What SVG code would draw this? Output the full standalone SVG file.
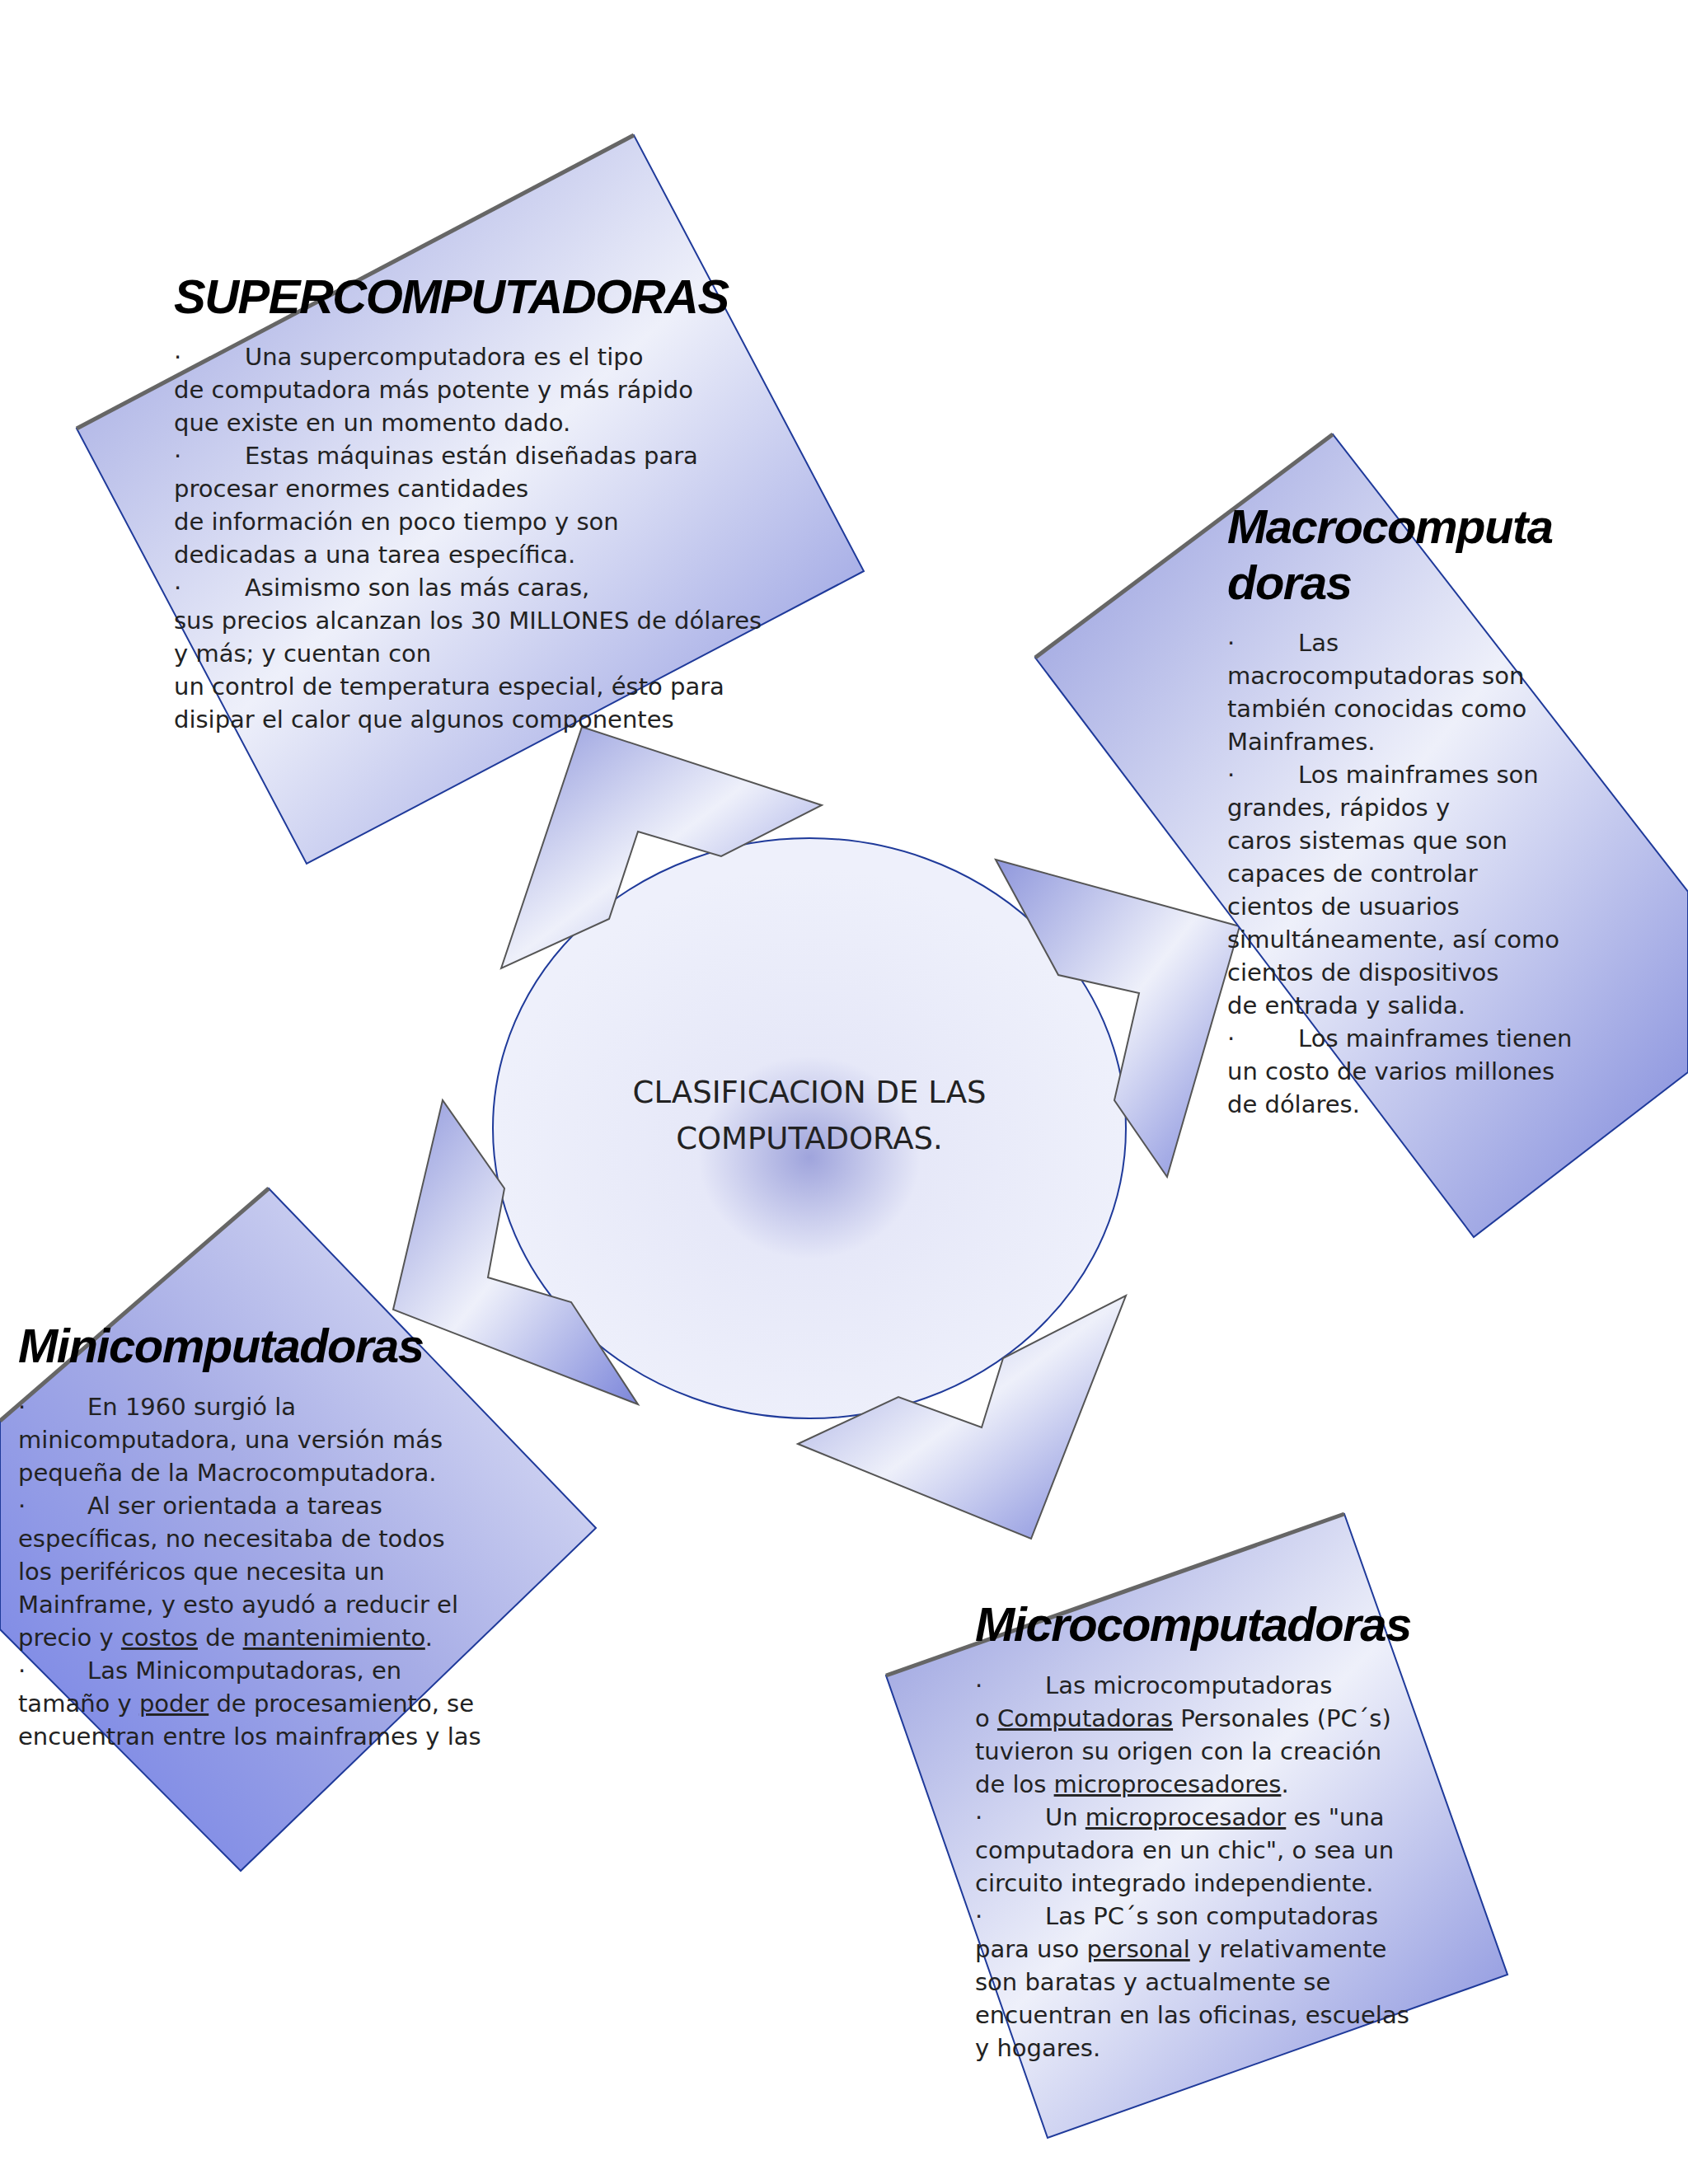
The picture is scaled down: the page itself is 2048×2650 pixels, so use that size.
<svg xmlns="http://www.w3.org/2000/svg" width="2048" height="2650" viewBox="0 0 2048 2650">
<defs>
<linearGradient id="g1" x1="0" y1="0" x2="1" y2="1"><stop offset="0" stop-color="#8f97dc"/><stop offset="0.5" stop-color="#eef0fa"/><stop offset="1" stop-color="#7c86da"/></linearGradient>
<linearGradient id="g2" x1="1" y1="0" x2="0" y2="1"><stop offset="0" stop-color="#eceefa"/><stop offset="0.5" stop-color="#a7ade6"/><stop offset="1" stop-color="#6f7de6"/></linearGradient>
<radialGradient id="rc" cx="0.5" cy="0.55" r="0.5"><stop offset="0" stop-color="#9fa4dc"/><stop offset="0.35" stop-color="#e6e8f8"/><stop offset="1" stop-color="#eef0fb"/></radialGradient>
<style>
.box{fill:url(#g1);stroke:#1f3a9a;stroke-width:2}
.box2{fill:url(#g2);stroke:#1f3a9a;stroke-width:2}
.sh{fill:none;stroke:#666;stroke-width:5}
.arr{fill:url(#g1);stroke:#555;stroke-width:2}
.t{font-family:"Liberation Sans",Arial,sans-serif;font-weight:bold;font-style:italic;font-size:58px;fill:#000;letter-spacing:-1.5px}
.b{font-family:"DejaVu Sans","Liberation Sans",sans-serif;font-size:29px;fill:#222}
.u{text-decoration:underline}
</style>
</defs>
<rect width="2048" height="2650" fill="#fff"/>
<g id="center">
<ellipse cx="982" cy="1369" rx="384" ry="352" fill="url(#rc)" stroke="#1f3a9a" stroke-width="2"/>
<text font-family="DejaVu Sans,sans-serif" font-size="37" fill="#222" text-anchor="middle"><tspan x="982" y="1338">CLASIFICACION DE LAS</tspan><tspan x="982" y="1394">COMPUTADORAS.</tspan></text>
</g>
<g id="connectors">
<polygon class="arr" points="608,1175 706,882 997,977 875,1039 774,1009 739,1115"/>
<polygon class="arr" points="1208,1043 1504,1124 1416,1428 1352,1335 1382,1205 1284,1183"/>
<polygon class="arr" points="537,1335 477,1589 774,1704 693,1580 592,1550 612,1442"/>
<polygon class="arr" points="968,1752 1251,1867 1366,1572 1217,1648 1191,1732 1090,1695"/>
</g>
<g id="super">
<polygon class="box" points="93,520 769,164 1048,693 372,1048"/>
<polyline class="sh" points="93,520 769,164"/>
<text class="t" x="211" y="380">SUPERCOMPUTADORAS</text>
<text class="b"><tspan x="211" y="443">·</tspan><tspan x="297">Una supercomputadora es el tipo</tspan><tspan x="211" y="483">de computadora más potente y más rápido</tspan><tspan x="211" y="523">que existe en un momento dado.</tspan><tspan x="211" y="563">·</tspan><tspan x="297">Estas máquinas están diseñadas para</tspan><tspan x="211" y="603">procesar enormes cantidades</tspan><tspan x="211" y="643">de información en poco tiempo y son</tspan><tspan x="211" y="683">dedicadas a una tarea específica.</tspan><tspan x="211" y="723">·</tspan><tspan x="297">Asimismo son las más caras,</tspan><tspan x="211" y="763">sus precios alcanzan los 30 MILLONES de dólares</tspan><tspan x="211" y="803">y más; y cuentan con</tspan><tspan x="211" y="843">un control de temperatura especial, ésto para</tspan><tspan x="211" y="883">disipar el calor que algunos componentes</tspan></text>
</g>
<g id="macro">
<polygon class="box" points="1256,798 1617,527 2048,1082 2048,1301 1788,1501"/>
<polyline class="sh" points="1256,798 1617,527"/>
<text class="t"><tspan x="1489" y="659">Macrocomputa</tspan><tspan x="1489" y="727">doras</tspan></text>
<text class="b"><tspan x="1489" y="790">·</tspan><tspan x="1575">Las</tspan><tspan x="1489" y="830">macrocomputadoras son</tspan><tspan x="1489" y="870">también conocidas como</tspan><tspan x="1489" y="910">Mainframes.</tspan><tspan x="1489" y="950">·</tspan><tspan x="1575">Los mainframes son</tspan><tspan x="1489" y="990">grandes, rápidos y</tspan><tspan x="1489" y="1030">caros sistemas que son</tspan><tspan x="1489" y="1070">capaces de controlar</tspan><tspan x="1489" y="1110">cientos de usuarios</tspan><tspan x="1489" y="1150">simultáneamente, así como</tspan><tspan x="1489" y="1190">cientos de dispositivos</tspan><tspan x="1489" y="1230">de entrada y salida.</tspan><tspan x="1489" y="1270">·</tspan><tspan x="1575">Los mainframes tienen</tspan><tspan x="1489" y="1310">un costo de varios millones</tspan><tspan x="1489" y="1350">de dólares.</tspan></text>
</g>
<g id="mini">
<polygon class="box2" points="326,1442 723,1854 292,2270 0,1977 0,1724"/>
<polyline class="sh" points="0,1724 326,1442"/>
<text class="t" x="22" y="1653">Minicomputadoras</text>
<text class="b"><tspan x="22" y="1717">·</tspan><tspan x="106">En 1960 surgió la</tspan><tspan x="22" y="1757">minicomputadora, una versión más</tspan><tspan x="22" y="1797">pequeña de la Macrocomputadora.</tspan><tspan x="22" y="1837">·</tspan><tspan x="106">Al ser orientada a tareas</tspan><tspan x="22" y="1877">específicas, no necesitaba de todos</tspan><tspan x="22" y="1917">los periféricos que necesita un</tspan><tspan x="22" y="1957">Mainframe, y esto ayudó a reducir el</tspan><tspan x="22" y="1997">precio y </tspan><tspan class="u">costos</tspan><tspan> de </tspan><tspan class="u">mantenimiento</tspan><tspan>.</tspan><tspan x="22" y="2037">·</tspan><tspan x="106">Las Minicomputadoras, en</tspan><tspan x="22" y="2077">tamaño y </tspan><tspan class="u">poder</tspan><tspan> de procesamiento, se</tspan><tspan x="22" y="2117">encuentran entre los mainframes y las</tspan></text>
</g>
<g id="micro">
<polygon class="box" points="1075,2033 1631,1837 1829,2396 1271,2594"/>
<polyline class="sh" points="1075,2033 1631,1837"/>
<text class="t" x="1183" y="1991">Microcomputadoras</text>
<text class="b"><tspan x="1183" y="2055">·</tspan><tspan x="1268">Las microcomputadoras</tspan><tspan x="1183" y="2095">o </tspan><tspan class="u">Computadoras</tspan><tspan> Personales (PC´s)</tspan><tspan x="1183" y="2135">tuvieron su origen con la creación</tspan><tspan x="1183" y="2175">de los </tspan><tspan class="u">microprocesadores</tspan><tspan>.</tspan><tspan x="1183" y="2215">·</tspan><tspan x="1268">Un </tspan><tspan class="u">microprocesador</tspan><tspan> es "una</tspan><tspan x="1183" y="2255">computadora en un chic", o sea un</tspan><tspan x="1183" y="2295">circuito integrado independiente.</tspan><tspan x="1183" y="2335">·</tspan><tspan x="1268">Las PC´s son computadoras</tspan><tspan x="1183" y="2375">para uso </tspan><tspan class="u">personal</tspan><tspan> y relativamente</tspan><tspan x="1183" y="2415">son baratas y actualmente se</tspan><tspan x="1183" y="2455">encuentran en las oficinas, escuelas</tspan><tspan x="1183" y="2495">y hogares.</tspan></text>
</g>
</svg>
